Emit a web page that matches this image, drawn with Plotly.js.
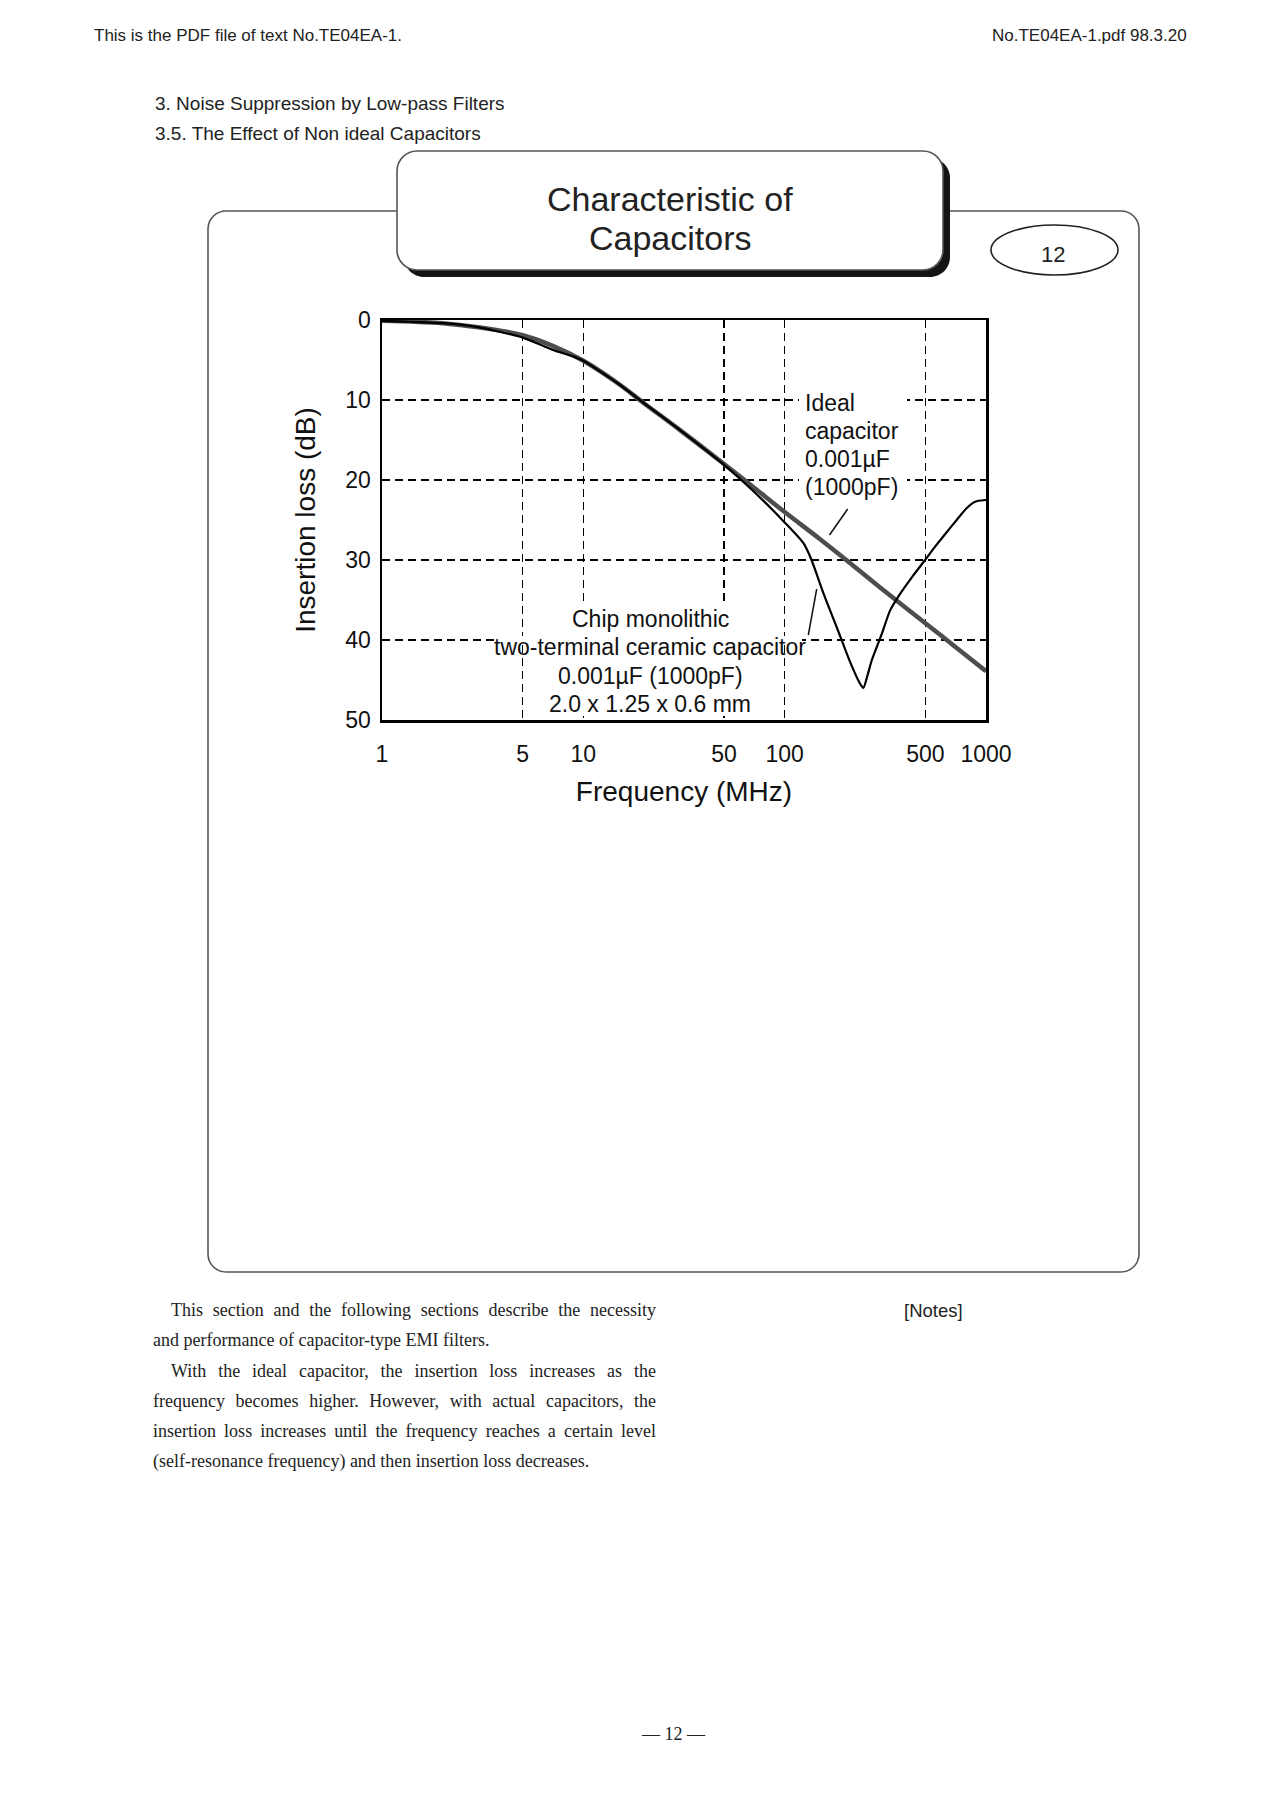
<!DOCTYPE html>
<html>
<head>
<meta charset="utf-8">
<script src="https://cdn.plot.ly/plotly-3.0.1.min.js"></script>
<style>
  html, body { margin: 0; padding: 0; background: #fff; }
  #page { position: relative; width: 1280px; height: 1809px; overflow: hidden; }
  #chart { position: absolute; left: 0; top: 0; width: 1280px; height: 1809px; }
  .para { position: absolute; font-family: "Liberation Serif", "Times New Roman", serif; font-size: 18px;
          color: #222; line-height: 30px; height: 30px; white-space: nowrap; }
  .just { text-align: justify; text-align-last: justify; }
</style>
</head>
<body>
<div id="page">
  <div id="chart"></div>
  <div class="para just" style="left:171px; top:1295px; width:485px;">This section and the following sections describe the necessity</div>
  <div class="para" style="left:153px; top:1325px; width:503px;">and performance of capacitor-type EMI filters.</div>
  <div class="para just" style="left:171px; top:1356px; width:485px;">With the ideal capacitor, the insertion loss increases as the</div>
  <div class="para just" style="left:153px; top:1386px; width:503px;">frequency becomes higher. However, with actual capacitors, the</div>
  <div class="para just" style="left:153px; top:1416px; width:503px;">insertion loss increases until the frequency reaches a certain level</div>
  <div class="para" style="left:153px; top:1446px; width:503px;">(self-resonance frequency) and then insertion loss decreases.</div>
</div>
<script>
// ---------------- data ----------------
const x_tick_vals = [1, 5, 10, 50, 100, 500, 1000];
const x_tick_text = ['1', '5', '10', '50', '100', '500', '1000'];
const y_tick_vals = [0, 10, 20, 30, 40, 50];
const y_tick_text = ['0', '10', '20', '30', '40', '50'];

// Ideal capacitor 0.001uF (1000pF)
const ideal_freq = [1, 2, 3, 5, 7, 10, 15, 20, 30, 50, 70, 100, 150, 200, 300, 500, 700, 1000];
const ideal_loss = [0.1, 0.4, 0.9, 1.9, 3.2, 5.1, 8.0, 10.4, 13.7, 18.0, 20.9, 24.0, 27.4, 29.9, 33.5, 37.9, 40.8, 43.9];

// Chip monolithic two-terminal ceramic capacitor 0.001uF (1000pF)
const chip_freq = [1, 2, 3, 5, 7, 9, 10, 15, 20, 30, 50, 70, 100, 124, 136, 156, 182, 211, 235, 246, 258, 271, 304, 334, 375, 430, 498, 560, 639, 720, 803, 870, 917, 1000];
const chip_loss = [0.1, 0.4, 0.9, 2.2, 3.7, 4.6, 5.1, 8.0, 10.4, 13.7, 18.1, 21.4, 25.3, 27.9, 30.0, 34.2, 38.5, 42.7, 45.3, 46.0, 44.4, 42.5, 39.2, 36.3, 34.2, 32.1, 30.0, 28.3, 26.5, 24.9, 23.5, 22.8, 22.6, 22.5];

// ---------------- page geometry helpers ----------------
const L = 382, R = 986, T = 320, B = 720;
const W = R - L, H = B - T;
function px(x) { return (x - L) / W; }
function py(y) { return (B - y) / H; }
function P(x, y) { return px(x).toFixed(5) + ',' + py(y).toFixed(5); }
function rr(x0, y0, x1, y1, r) {
  const k = 0.5523 * r;
  return 'M' + P(x0 + r, y0) + ' L' + P(x1 - r, y0) +
    ' C' + P(x1 - r + k, y0) + ' ' + P(x1, y0 + r - k) + ' ' + P(x1, y0 + r) +
    ' L' + P(x1, y1 - r) +
    ' C' + P(x1, y1 - r + k) + ' ' + P(x1 - r + k, y1) + ' ' + P(x1 - r, y1) +
    ' L' + P(x0 + r, y1) +
    ' C' + P(x0 + r - k, y1) + ' ' + P(x0, y1 - r + k) + ' ' + P(x0, y1 - r) +
    ' L' + P(x0, y0 + r) +
    ' C' + P(x0, y0 + r - k) + ' ' + P(x0 + r - k, y0) + ' ' + P(x0 + r, y0) + ' Z';
}

const SANS = 'Liberation Sans, Arial, Helvetica, sans-serif';
const SERIF = 'Liberation Serif, Times New Roman, serif';

const traces = [
  { x: ideal_freq, y: ideal_loss, type: 'scatter', mode: 'lines', name: 'Ideal capacitor',
    line: { color: '#4d4d4d', width: 4.5, shape: 'spline', smoothing: 1 }, hoverinfo: 'skip' },
  { x: chip_freq, y: chip_loss, type: 'scatter', mode: 'lines', name: 'Chip monolithic',
    line: { color: '#000000', width: 2.2, shape: 'spline', smoothing: 0.6 }, hoverinfo: 'skip' }
];

function rectShape(x0, y0, x1, y1, fill, layer) {
  return { type: 'rect', xref: 'paper', yref: 'paper', x0: px(x0), x1: px(x1), y0: py(y1), y1: py(y0),
           fillcolor: fill, line: { width: 0 }, layer: layer || 'above' };
}
function lineShape(x0, y0, x1, y1) {
  return { type: 'line', xref: 'paper', yref: 'paper', x0: px(x0), y0: py(y0), x1: px(x1), y1: py(y1),
           line: { color: '#111', width: 1.5 }, layer: 'above' };
}

const shapes = [
  { type: 'path', xref: 'paper', yref: 'paper', path: rr(208, 211, 1139, 1272, 18),
    line: { color: '#555', width: 1.6 }, fillcolor: 'rgba(0,0,0,0)', layer: 'below' },
  { type: 'path', xref: 'paper', yref: 'paper', path: rr(404, 158, 950, 277, 20),
    line: { width: 0 }, fillcolor: '#141414', layer: 'below' },
  { type: 'path', xref: 'paper', yref: 'paper', path: rr(397, 151, 943, 270, 20),
    line: { color: '#555', width: 1.6 }, fillcolor: '#ffffff', layer: 'below' },
  { type: 'circle', xref: 'paper', yref: 'paper', x0: px(991), x1: px(1118), y0: py(275), y1: py(225),
    line: { color: '#222', width: 1.6 }, fillcolor: 'rgba(0,0,0,0)', layer: 'below' },
  rectShape(799, 389, 907, 500, '#ffffff'),
  rectShape(530, 602, 776, 716, '#ffffff'),
  rectShape(498, 636, 802, 645, '#ffffff'),
  lineShape(847.7, 509, 829.5, 535),
  lineShape(816.7, 589, 808.3, 635)
];

function ann(text, x, y, size, opts) {
  const o = opts || {};
  return Object.assign({ text: text, xref: 'paper', yref: 'paper', x: px(x), y: py(y),
    xanchor: 'center', yanchor: 'middle', showarrow: false,
    font: { family: o.family || SANS, size: size, color: o.color || '#111' } }, o.extra || {});
}

const annotations = [
  ann('This is the PDF file of text No.TE04EA-1.', 92, 35, 17, { color: '#222', extra: { xanchor: 'left' } }),
  ann('No.TE04EA-1.pdf 98.3.20', 1189, 35, 17, { color: '#222', extra: { xanchor: 'right' } }),
  ann('3. Noise Suppression by Low-pass Filters', 153, 103, 19, { color: '#222', extra: { xanchor: 'left' } }),
  ann('3.5. The Effect of Non ideal Capacitors', 153, 133, 19, { color: '#222', extra: { xanchor: 'left' } }),
  ann('Characteristic of', 670, 199, 34, { color: '#222' }),
  ann('Capacitors', 670, 238, 34, { color: '#222' }),
  ann('12', 1053, 254, 22, { color: '#222' }),
  ann('Ideal', 803, 403, 23, { extra: { xanchor: 'left' } }),
  ann('capacitor', 803, 431, 23, { extra: { xanchor: 'left' } }),
  ann('0.001µF', 803, 459, 23, { extra: { xanchor: 'left' } }),
  ann('(1000pF)', 803, 487, 23, { extra: { xanchor: 'left' } }),
  ann('Chip monolithic', 650, 619, 23),
  ann('two-terminal ceramic capacitor', 650, 647, 23),
  ann('0.001µF (1000pF)', 650, 676, 23),
  ann('2.0 x 1.25 x 0.6 mm', 650, 704, 23),
  ann('[Notes]', 933.5, 1310, 18.5, { color: '#222' }),
  ann('— 12 —', 673, 1734, 18, { family: SERIF, color: '#222' })
];

const axisCommon = {
  tickmode: 'array', showline: true, mirror: true, linecolor: '#000', linewidth: 2.5,
  showgrid: true, gridcolor: '#000', gridwidth: 1.3, griddash: '8px,5px',
  ticks: '', zeroline: false, fixedrange: true, automargin: false,
  tickfont: { family: SANS, size: 23, color: '#111' }
};

const layout = {
  width: 1280, height: 1809, autosize: false,
  margin: { l: L, r: 1280 - R, t: T, b: 1809 - B, pad: 0 },
  paper_bgcolor: '#ffffff', plot_bgcolor: '#ffffff', showlegend: false,
  font: { family: SANS, color: '#111' },
  xaxis: Object.assign({}, axisCommon, {
    type: 'log', range: [0, 3], tickvals: x_tick_vals, ticktext: x_tick_text,
    ticklabelstandoff: 12,
    title: { text: 'Frequency (MHz)', font: { family: SANS, size: 28, color: '#111' }, standoff: 16 }
  }),
  yaxis: Object.assign({}, axisCommon, {
    range: [50, 0], tickvals: y_tick_vals, ticktext: y_tick_text,
    ticklabelstandoff: 4,
    title: { text: 'Insertion loss (dB)', font: { family: SANS, size: 28, color: '#111' }, standoff: 22 }
  }),
  shapes: shapes,
  annotations: annotations
};

Plotly.newPlot('chart', traces, layout, { displayModeBar: false, staticPlot: true });
</script>
</body>
</html>
